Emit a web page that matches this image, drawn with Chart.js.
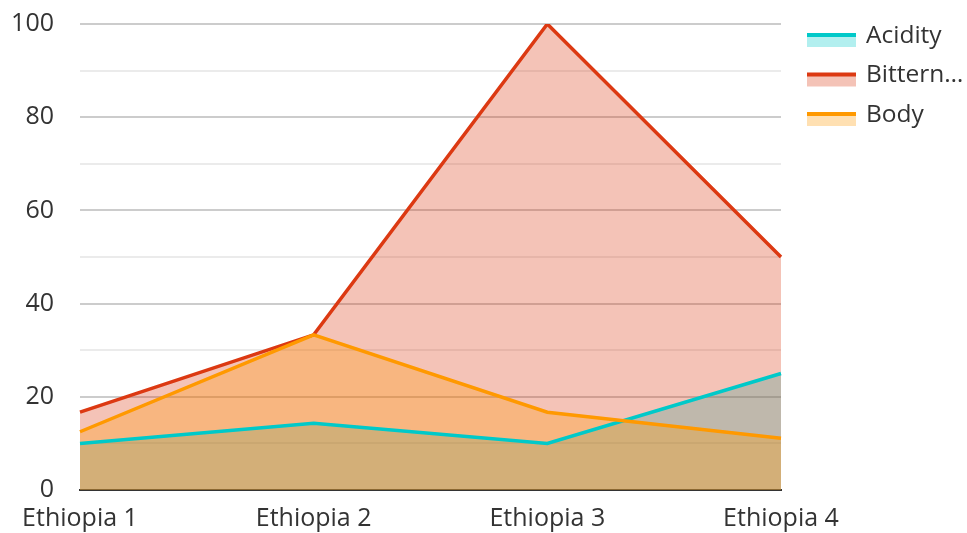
<!DOCTYPE html>
<html>
<head>
<meta charset="utf-8">
<script src="https://cdn.jsdelivr.net/npm/chart.js@4"></script>
<style>
  html, body { margin: 0; padding: 0; background: #fff; }
  #wrap { width: 967px; height: 533px; }
</style>
</head>
<body>
<div id="wrap"><canvas id="chart" width="967" height="533"></canvas></div>
<script>
const categories = ['Ethiopia 1', 'Ethiopia 2', 'Ethiopia 3', 'Ethiopia 4'];
const acidity = [10, 14.3, 10, 25];
const bitterness = [16.7, 33.3, 100, 50];
const body = [12.5, 33.3, 16.7, 11.1];
const seriesNames = ['Acidity', 'Bitterness', 'Body'];
const legendNames = ['Acidity', 'Bittern…', 'Body'];
const yTicks = [0, 20, 40, 60, 80, 100];

const colors = ['#00c9c9', '#dc3912', '#ff9900'];
const fills = ['rgba(0,201,201,0.3)', 'rgba(220,57,18,0.3)', 'rgba(255,153,0,0.3)'];
const FONT = '"Open Sans", sans-serif';

const makeSet = (i, values) => ({
    label: seriesNames[i],
    data: values,
    borderColor: colors[i],
    backgroundColor: fills[i],
    borderWidth: 3.5,
    pointRadius: 0,
    tension: 0,
    fill: 'origin',
    order: 3 - i
});

// legend drawn by hand: line on top of a pale box
const sideLegend = {
    id: 'sideLegend',
    afterDraw(chart) {
        const ctx = chart.ctx;
        ctx.save();
        ctx.font = '24.5px ' + FONT;
        ctx.textBaseline = 'middle';
        legendNames.forEach((name, i) => {
            const y = 36 + i * 39.5;
            ctx.fillStyle = fills[i];
            ctx.fillRect(807, y - 2, 49, 13);
            ctx.fillStyle = colors[i];
            ctx.fillRect(807, y - 3, 49, 4);
            ctx.fillStyle = '#333';
            ctx.fillText(name, 866, y);
        });
        ctx.restore();
    }
};

new Chart(document.getElementById('chart'), {
    type: 'line',
    data: {
        labels: categories,
        datasets: [makeSet(0, acidity), makeSet(1, bitterness), makeSet(2, body)]
    },
    options: {
        responsive: false,
        animation: false,
        layout: { padding: { left: 0, right: 186, top: 24, bottom: 0 } },
        plugins: {
            legend: { display: false },
            tooltip: { enabled: false },
            filler: { drawTime: 'beforeDatasetsDraw' }
        },
        scales: {
            x: {
                offset: false,
                grid: { display: false, drawTicks: false },
                border: { color: '#333', width: 2 },
                ticks: { color: '#333', font: { family: FONT, size: 25 }, padding: 14, maxRotation: 0 },
                afterFit: (s) => { s.height = 43; s.paddingLeft = 0; s.paddingRight = 0; }
            },
            y: {
                min: 0,
                max: 100,
                grid: {
                    drawTicks: false,
                    color: (c) => (c.tick && c.tick.value % 20 === 0) ? '#cccccc' : '#ebebeb',
                    lineWidth: 2
                },
                border: { display: false },
                ticks: {
                    stepSize: 10,
                    color: '#333',
                    padding: 26,
                    font: { family: FONT, size: 25 },
                    callback: (v) => yTicks.includes(v) ? v : ''
                },
                afterFit: (s) => { s.width = 80; s.paddingTop = 0; s.paddingBottom = 0; }
            }
        }
    },
    plugins: [sideLegend]
});
</script>
</body>
</html>
